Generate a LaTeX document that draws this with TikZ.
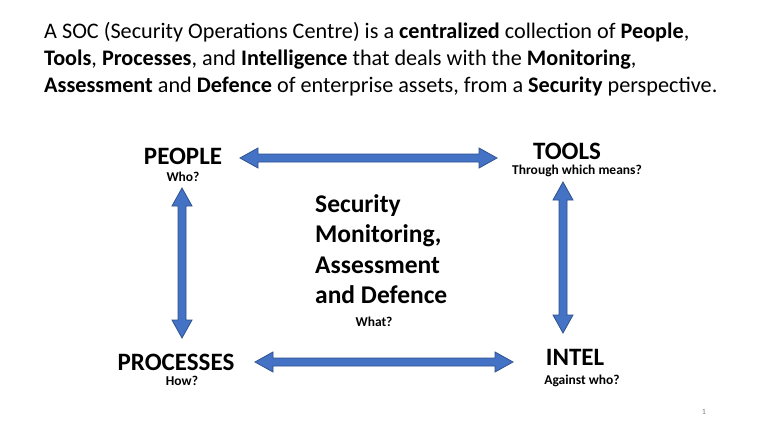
\documentclass[tikz,border=0pt]{standalone}
\usepackage{fontspec}
\setmainfont{Carlito}
\begin{document}
\begin{tikzpicture}[x=1pt,y=-1pt,
  hdr/.style={anchor=base west,inner sep=0,font=\fontsize{22.2}{26}\selectfont},
  lbl/.style={inner sep=0,font=\fontsize{25}{28}\selectfont\bfseries},
  sub/.style={inner sep=0,font=\fontsize{13.5}{15}\selectfont\bfseries}]
\definecolor{ab}{HTML}{4472C4}\definecolor{abd}{HTML}{2F528F}
\tikzset{arr/.style={fill=ab,draw=abd,line width=0.8pt}}
\useasboundingbox (0,0) rectangle (768,433);
\fill[white] (0,0) rectangle (768,433);
\node[hdr] (h1) at (44,39) {A SOC (Security Operations Centre) is a \textbf{centralized} collection of \textbf{People},};
\node[hdr] (h2) at (44,66) {\textbf{Tools}, \textbf{Processes}, and \textbf{Intelligence} that deals with the \textbf{Monitoring},};
\node[hdr] (h3) at (44,93) {\textbf{Assessment} and \textbf{Defence} of enterprise assets, from a \textbf{Security} perspective.};
\newcommand\harr[3]{\draw[arr] (#1,#3) -- ++(18,-10) -- ++(0,6) -- (#2-18,#3-4) -- ++(0,-6) -- (#2,#3) -- ++(-18,10) -- ++(0,-6) -- (#1+18,#3+4) -- ++(0,6) -- cycle;}
\newcommand\varr[3]{\draw[arr] (#3,#1) -- ++(-10,18) -- ++(6,0) -- (#3-4,#2-18) -- ++(-6,0) -- (#3,#2) -- ++(10,-18) -- ++(-6,0) -- (#3+4,#1+18) -- ++(6,0) -- cycle;}
\harr{240}{497}{158}
\harr{255}{513}{362}
\varr{188}{338}{182}
\varr{182}{333}{563}
\node[lbl] (people) at (183,156) {PEOPLE};
\node[sub] (who) at (183,177) {Who?};
\node[lbl] (tools) at (567,151) {TOOLS};
\node[sub] (tw) at (577,171) {Through which means?};
\node[lbl] (proc) at (176,362) {PROCESSES};
\node[sub] (how) at (182,381) {How?};
\node[lbl] (intel) at (575,357) {INTEL};
\node[sub] (aw) at (582,381) {Against who?};
\node[anchor=north west,inner sep=0,align=left,font=\fontsize{25.5}{30.5}\selectfont\bfseries] (c) at (315,194) {Security\\Monitoring,\\Assessment\\and Defence};
\node[sub] (what) at (374,322) {What?};
\node[inner sep=0,font=\fontsize{8}{9}\selectfont,text=gray] (pg) at (704,412) {1};
\end{tikzpicture}
\end{document}
